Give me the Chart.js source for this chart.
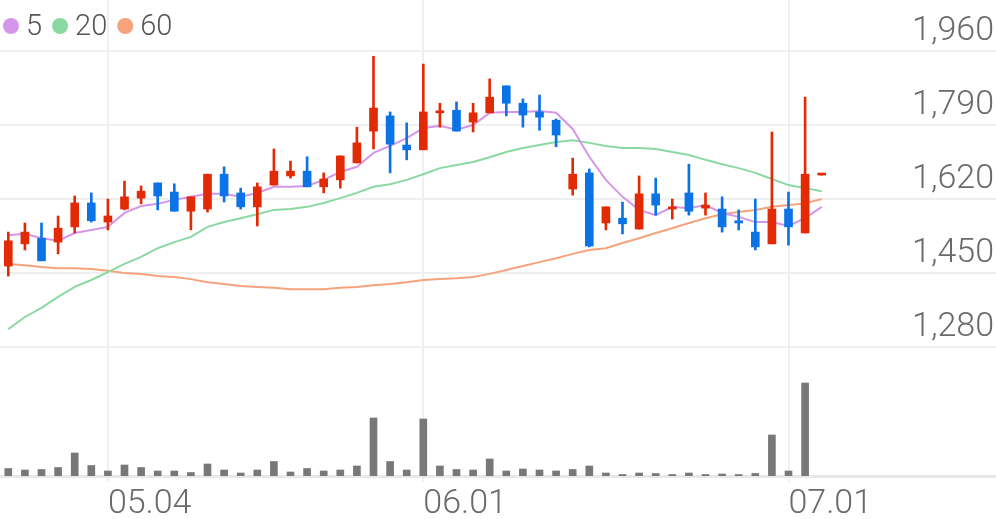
<!DOCTYPE html>
<html><head><meta charset="utf-8">
<script src="https://cdn.jsdelivr.net/npm/chart.js@4.4.1/dist/chart.umd.min.js"></script>
<style>html,body{margin:0;padding:0;background:#fff;overflow:hidden}#wrap{width:996px;height:519px}</style>
</head><body><div id="wrap"><canvas id="c" width="996" height="519"></canvas></div>
<script>
// trading days (2020)
const dates = ['04.22','04.23','04.24','04.27','04.28','04.29','05.04','05.06','05.07','05.08',
  '05.11','05.12','05.13','05.14','05.15','05.18','05.19','05.20','05.21','05.22',
  '05.25','05.26','05.27','05.28','05.29','06.01','06.02','06.03','06.04','06.05',
  '06.08','06.09','06.10','06.11','06.12','06.15','06.16','06.17','06.18','06.19',
  '06.22','06.23','06.24','06.25','06.26','06.29','06.30','07.01','07.02','07.03'];
const emptySlots = 10;
const opens  = [1466,1517,1530,1521,1556,1611,1567,1597,1622,1657,1636,1592,1597,1677,1634,1602,1652,1673,1684,1648,1664,1703,1776,1811,1744,1733,1818,1824,1797,1818,1880,1840,1820,1801,1643,1680,1565,1576,1551,1632,1597,1634,1599,1597,1570,1544,1517,1597,1542,1675];
const highs  = [1544,1565,1565,1581,1627,1634,1620,1661,1650,1657,1655,1625,1677,1694,1645,1657,1735,1707,1717,1680,1719,1785,1948,1820,1795,1930,1840,1843,1840,1896,1880,1850,1859,1804,1714,1689,1602,1613,1673,1668,1620,1700,1634,1625,1595,1620,1774,1636,1854,1675];
const lows   = [1443,1503,1478,1494,1542,1567,1549,1595,1609,1595,1592,1549,1590,1613,1597,1558,1652,1668,1648,1634,1645,1703,1735,1680,1710,1733,1785,1776,1774,1818,1811,1785,1778,1740,1629,1510,1549,1540,1551,1583,1574,1583,1583,1544,1549,1503,1517,1514,1542,1675];
const closes = [1524,1544,1478,1553,1611,1570,1581,1625,1638,1627,1592,1625,1677,1627,1602,1648,1684,1684,1648,1666,1719,1749,1829,1746,1733,1820,1822,1776,1818,1854,1840,1813,1808,1767,1677,1512,1602,1563,1632,1606,1602,1592,1606,1556,1565,1510,1597,1556,1677,1675];
const volumes = [75000,60000,65000,85000,230000,105000,50000,110000,85000,50000,50000,35000,120000,60000,30000,60000,145000,40000,75000,50000,60000,100000,580000,145000,60000,570000,100000,65000,60000,170000,50000,70000,60000,50000,65000,100000,30000,15000,30000,25000,15000,30000,15000,20000,15000,25000,410000,50000,930000,null];
const ma5  = [1537,1540,1530,1524,1542,1549,1556,1588,1604,1609,1618,1625,1632,1632,1625,1634,1648,1648,1650,1664,1682,1694,1726,1742,1760,1783,1788,1779,1790,1818,1820,1820,1822,1818,1781,1717,1664,1625,1595,1583,1602,1599,1606,1588,1579,1567,1567,1558,1576,1602];
const ma20 = [1321,1349,1370,1395,1418,1434,1452,1471,1487,1507,1521,1533,1556,1567,1576,1585,1595,1597,1602,1611,1622,1634,1648,1654,1664,1677,1691,1698,1705,1716,1728,1737,1744,1751,1755,1749,1742,1737,1737,1735,1728,1721,1710,1700,1691,1680,1666,1652,1645,1638];
const ma60 = [1471,1468,1464,1461,1461,1459,1455,1450,1448,1443,1441,1436,1429,1425,1420,1418,1416,1413,1413,1413,1416,1418,1422,1425,1429,1434,1436,1438,1441,1448,1457,1466,1475,1484,1494,1503,1507,1519,1530,1542,1553,1565,1576,1585,1590,1595,1602,1606,1610,1620];
const priceTicks = [1280,1450,1620,1790,1960];
const maLabels = ['5','20','60'];

const UP = '#e22a05', DOWN = '#0b73e6';
const labels = dates.concat(Array(emptySlots).fill(''));
const candleColors = opens.map((o,i) => closes[i] >= o ? UP : DOWN);
const isMonthStart = i => i > 0 && i < dates.length && dates[i].slice(0,2) !== dates[i-1].slice(0,2);

const legendPlugin = {
  id: 'maLegend',
  afterDraw(chart) {
    const ctx = chart.ctx;
    ctx.save();
    ctx.font = '300 29px Roboto';
    ctx.textBaseline = 'middle';
    let x = 3;
    chart.data.datasets.filter(d => d.type === 'line').forEach(d => {
      ctx.fillStyle = d.borderColor;
      ctx.beginPath(); ctx.arc(x + 8, 26, 8, 0, Math.PI*2); ctx.fill();
      ctx.fillStyle = '#555555';
      ctx.fillText(d.label, x + 23, 28);
      x += 23 + ctx.measureText(d.label).width + 10;
    });
    ctx.restore();
  }
};

new Chart(document.getElementById('c'), {
  type: 'bar',
  data: {
    labels,
    datasets: [
      {type:'bar', label:'body', data: opens.map((o,i)=>[o, closes[i]]), backgroundColor: candleColors, barThickness: 8, minBarLength: 2, grouped:false, yAxisID:'y', order:0},
      {type:'bar', label:'wick', data: lows.map((l,i)=>[l, highs[i]]), backgroundColor: candleColors, barThickness: 2, grouped:false, yAxisID:'y', order:1},
      {type:'line', label: maLabels[0], data: ma5, borderColor:'#d596ea', borderWidth:2, pointRadius:0, yAxisID:'y', order:2},
      {type:'line', label: maLabels[1], data: ma20, borderColor:'#8bd9a2', borderWidth:2, pointRadius:0, yAxisID:'y', order:2},
      {type:'line', label: maLabels[2], data: ma60, borderColor:'#f5a37c', borderWidth:2, pointRadius:0, yAxisID:'y', order:2},
      {type:'bar', label:'volume', data: volumes, backgroundColor:'#787878', barThickness: 7, grouped:false, yAxisID:'v', order:3}
    ]
  },
  options: {
    responsive: false, animation: false,
    layout: {padding: 0},
    plugins: {legend:{display:false}, tooltip:{enabled:false}},
    scales: {
      x: {
        type:'category', offset:true,
        grid: {offset:false, lineWidth:2, color: c => isMonthStart(c.index) ? '#f0f0f0' : 'rgba(0,0,0,0)', drawTicks:true, tickLength:6},
        border: {display:true, color:'#e8e8e8', width:3},
        ticks: {autoSkip:false, maxRotation:0, minRotation:0, align:'start', padding:2, color:'#6a6a6a',
          font:{family:'Roboto', size:34, weight:300},
          callback: (v,i) => isMonthStart(i) ? dates[i] : ''},
        afterFit: s => { s.height = 43; s.paddingLeft = 0; s.paddingRight = 0; }
      },
      y: {
        position:'right', min:983.7, max:2077.2,
        afterBuildTicks: s => { s.ticks = priceTicks.map(v => ({value:v})); },
        afterFit: s => { s.width = 0; s.paddingTop = 0; s.paddingBottom = 0; },
        grid: {color:'#efefef', lineWidth:2, drawTicks:false},
        border: {display:false},
        ticks: {mirror:true, padding:-2, labelOffset:-20, color:'#6a6a6a',
          font:{family:'Roboto', size:34, weight:300},
          callback: v => v.toLocaleString('en-US')}
      },
      v: {display:false, min:0, max:4760000}
    }
  },
  plugins: [legendPlugin]
});
</script></body></html>
